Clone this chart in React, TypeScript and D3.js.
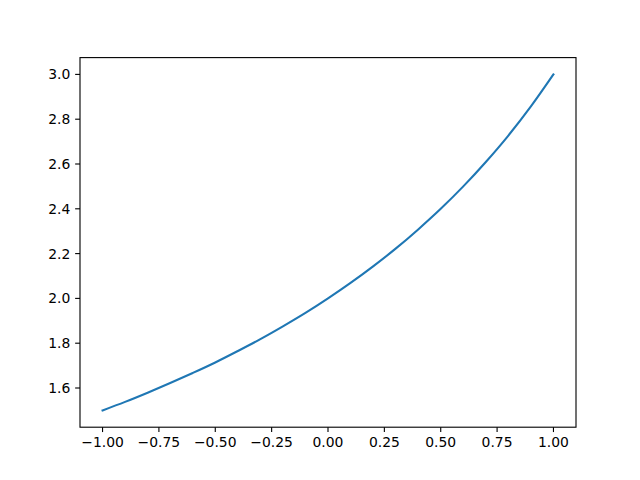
import React from "react";
import * as d3 from "d3";

const xValues = [-1.0, -0.9, -0.8, -0.7, -0.6, -0.5, -0.4, -0.3, -0.2, -0.1, 0.0, 0.1, 0.2, 0.3, 0.4, 0.5, 0.6, 0.7, 0.8, 0.9, 1.0];
const yValues = [1.5, 1.538, 1.579, 1.622, 1.667, 1.714, 1.765, 1.818, 1.875, 1.935, 2.0, 2.069, 2.143, 2.222, 2.308, 2.4, 2.5, 2.609, 2.727, 2.857, 3.0];
const xTicks = [-1.0, -0.75, -0.5, -0.25, 0.0, 0.25, 0.5, 0.75, 1.0];
const yTicks = [1.6, 1.8, 2.0, 2.2, 2.4, 2.6, 2.8, 3.0];

const fmt = (v: number, d: number) => v.toFixed(d).replace("-", "\u2212");

export default function App() {
  const W = 640, H = 480;
  const left = 80, right = 576, top = 57.6, bottom = 427.2;
  const x = d3.scaleLinear().domain([-1.1, 1.1]).range([left, right]);
  const y = d3.scaleLinear().domain([1.425, 3.075]).range([bottom, top]);
  const line = d3
    .line<number>()
    .x((_, i) => x(xValues[i]))
    .y((d) => y(d))
    .curve(d3.curveMonotoneX);
  const tickLen = 4.86;
  const fontSize = 13.9;
  const font = "DejaVu Sans";
  return (
    <svg width={W} height={H} style={{ position: "absolute", left: 0, top: 0, background: "#fff" }}>
      <rect x={0} y={0} width={W} height={H} fill="#fff" />
      <path d={line(yValues) || ""} fill="none" stroke="#1f77b4" strokeWidth={2.08} strokeLinecap="square" />
      <rect x={left} y={top} width={right - left} height={bottom - top} fill="none" stroke="#000" strokeWidth={1.11} />
      {xTicks.map((t) => (
        <g key={"x" + t}>
          <line x1={x(t)} x2={x(t)} y1={bottom} y2={bottom + tickLen} stroke="#000" strokeWidth={1.11} />
          <text x={x(t)} y={bottom + tickLen + 4.86 + fontSize * 0.76} textAnchor="middle" fontFamily={font} fontSize={fontSize} fill="#000">
            {fmt(t, 2)}
          </text>
        </g>
      ))}
      {yTicks.map((t) => (
        <g key={"y" + t}>
          <line x1={left - tickLen} x2={left} y1={y(t)} y2={y(t)} stroke="#000" strokeWidth={1.11} />
          <text x={left - tickLen - 4.86} y={y(t)} dy="0.36em" textAnchor="end" fontFamily={font} fontSize={fontSize} fill="#000">
            {fmt(t, 1)}
          </text>
        </g>
      ))}
    </svg>
  );
}
